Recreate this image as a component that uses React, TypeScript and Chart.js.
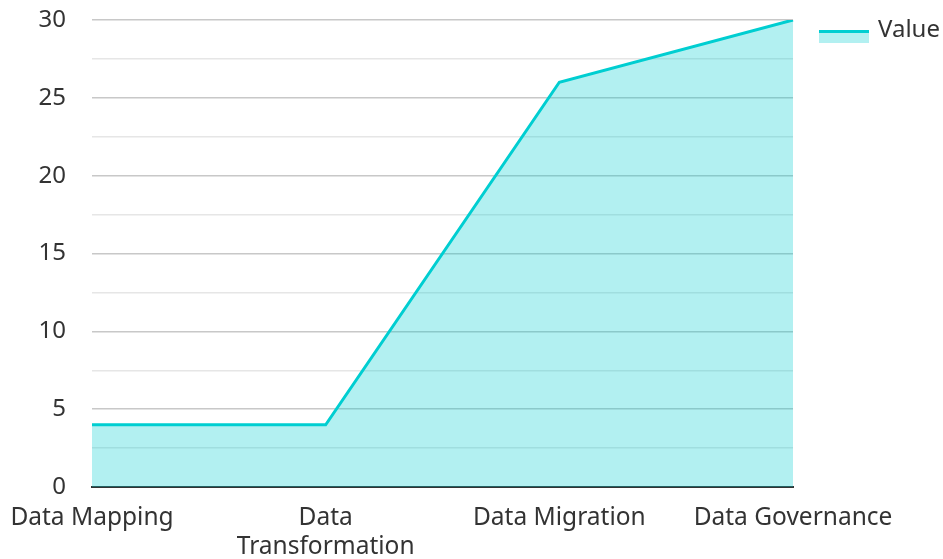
import React, { useEffect, useRef } from 'react';
import { Chart, registerables } from 'chart.js';

Chart.register(...registerables);

const categories: (string | string[])[] = ['Data Mapping', ['Data', 'Transformation'], 'Data Migration', 'Data Governance'];
const values: number[] = [4, 4, 26, 30];
const seriesName = 'Value';
const yMin = 0;
const yMax = 30;
const yStep = 2.5;
const yLabelStep = 5;

const LINE = '#00CED1';
const FILL = 'rgba(0,206,209,0.3)';
const FONT = '"Noto Sans", "Open Sans", sans-serif';
const TEXT = '#333333';

const BOX_SLOT = 71;
const BOX_W = 50;
const BOX_H = 13;
const BOX_SHIFT = 24;
const FONT_SIZE = 24;

const legendBoxPlugin = {
  id: 'legendBox',
  afterDraw(chart: any) {
    const lg = chart.legend;
    if (!lg || !lg.legendHitBoxes || !lg.legendHitBoxes.length) return;
    const hb = lg.legendHitBoxes[0];
    const ctx = chart.ctx;
    const top = hb.top + 11.5;
    const left = hb.left + BOX_SHIFT;
    ctx.save();
    ctx.fillStyle = FILL;
    ctx.fillRect(left, top, BOX_W, BOX_H);
    ctx.strokeStyle = LINE;
    ctx.lineWidth = 3;
    ctx.beginPath();
    ctx.moveTo(left, top + 1.5);
    ctx.lineTo(left + BOX_W, top + 1.5);
    ctx.stroke();
    ctx.restore();
  },
};

export default function App() {
  const ref = useRef<HTMLCanvasElement | null>(null);
  useEffect(() => {
    if (!ref.current) return;
    const chart = new Chart(ref.current, {
      type: 'line',
      data: {
        labels: categories as any,
        datasets: [
          {
            label: seriesName,
            data: values,
            borderColor: LINE,
            backgroundColor: FILL,
            borderWidth: 3,
            fill: 'origin',
            pointRadius: 0,
            pointHoverRadius: 0,
            tension: 0,
          },
        ],
      },
      options: {
        animation: false,
        responsive: true,
        maintainAspectRatio: false,
        layout: { padding: { top: 16.5, left: 0, right: 0, bottom: 0 } },
        plugins: {
          tooltip: { enabled: false },
          legend: {
            position: 'right',
            align: 'start',
            maxWidth: 150,
            labels: {
              boxWidth: BOX_SLOT,
              boxHeight: BOX_H,
              color: TEXT,
              font: { family: FONT, size: FONT_SIZE },
              padding: 2,
              generateLabels: (ch: any) =>
                ch.data.datasets.map((ds: any, i: number) => ({
                  text: ds.label,
                  fillStyle: 'rgba(0,0,0,0)',
                  strokeStyle: 'rgba(0,0,0,0)',
                  lineWidth: 0,
                  hidden: false,
                  datasetIndex: i,
                  fontColor: TEXT,
                })),
            },
          },
        },
        scales: {
          x: {
            offset: false,
            grid: { display: false, drawTicks: false },
            border: { display: true, color: '#333333', width: 2 },
            ticks: {
              color: TEXT,
              font: { family: FONT, size: 24.5 },
              maxRotation: 0,
              autoSkip: false,
              padding: 16,
            },
            afterFit: (scale: any) => {
              scale.height = 72;
              scale.paddingLeft = 0;
              scale.paddingRight = 150;
            },
          },
          y: {
            min: yMin,
            max: yMax,
            grid: {
              drawTicks: false,
              lineWidth: 1.5,
              color: (ctx: any) =>
                ctx.tick && ctx.tick.value % yLabelStep === 0 ? '#c8c8c8' : '#e6e6e6',
            },
            border: { display: false },
            ticks: {
              stepSize: yStep,
              color: TEXT,
              font: { family: FONT, size: FONT_SIZE },
              padding: 26,
              callback: (v: any) => (Number(v) % yLabelStep === 0 ? String(v) : ''),
            },
            afterFit: (scale: any) => {
              scale.width = 92;
              scale.paddingTop = 20;
            },
          },
        },
      },
      plugins: [legendBoxPlugin],
    });
    return () => chart.destroy();
  }, []);
  return (
    <div style={{ position: 'fixed', left: 0, top: 0, width: 943, height: 559 }}>
      <canvas ref={ref} />
    </div>
  );
}
